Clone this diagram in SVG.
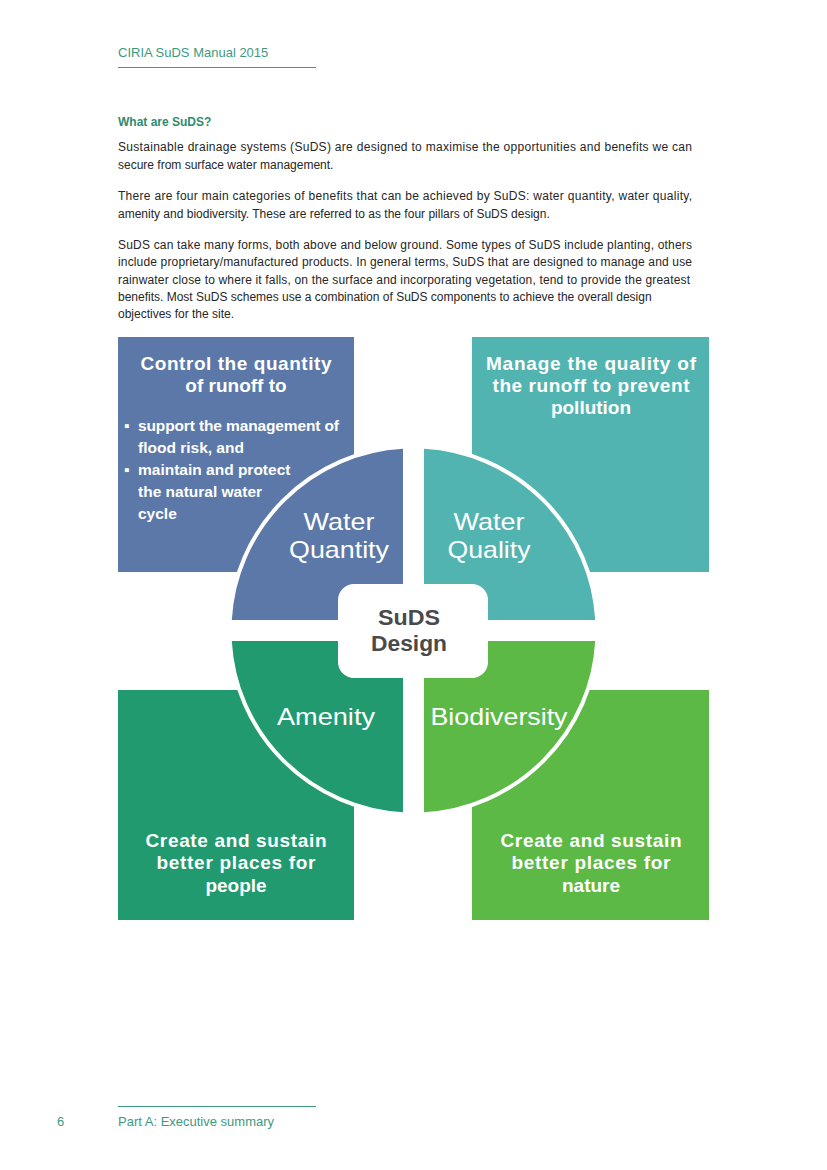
<svg xmlns="http://www.w3.org/2000/svg" width="827" height="1170" viewBox="0 0 827 1170">
<style>
.hdr{font-family:"Liberation Sans",Arial,sans-serif;font-size:13px;fill:#3d9a7f}
.body{font-family:"Liberation Sans",Arial,sans-serif;font-size:12px;fill:#262626}
.h{font-family:"Liberation Sans",Arial,sans-serif;font-size:12px;font-weight:bold;fill:#2f8a6f}
.bt{font-family:"Liberation Sans",Arial,sans-serif;font-size:19px;font-weight:bold;fill:#ffffff}
.bl{font-family:"Liberation Sans",Arial,sans-serif;font-size:15.5px;font-weight:bold;fill:#ffffff}
.lab{font-family:"Liberation Sans",Arial,sans-serif;font-size:24px;fill:#ffffff}
.ctr{font-family:"Liberation Sans",Arial,sans-serif;font-size:22px;font-weight:bold;fill:#4a4a4a}
.rule{stroke:#3d9a7f;stroke-width:1}
.arc{fill:none;stroke:#ffffff;stroke-width:4}
</style>
<rect width="827" height="1170" fill="#ffffff"/>
<text class="hdr" x="118" y="57">CIRIA SuDS Manual 2015</text>
<line class="rule" x1="118" y1="67.5" x2="316" y2="67.5"/>
<text class="h" x="118" y="126">What are SuDS?</text>
<text class="body" x="118" y="151" textLength="574">Sustainable drainage systems (SuDS) are designed to maximise the opportunities and benefits we can</text>
<text class="body" x="118" y="169">secure from surface water management.</text>
<text class="body" x="118" y="200" textLength="574">There are four main categories of benefits that can be achieved by SuDS: water quantity, water quality,</text>
<text class="body" x="118" y="218">amenity and biodiversity. These are referred to as the four pillars of SuDS design.</text>
<text class="body" x="118" y="249" textLength="574">SuDS can take many forms, both above and below ground.  Some types of SuDS include planting, others</text>
<text class="body" x="118" y="266" textLength="574">include proprietary/manufactured products. In general terms, SuDS that are designed to manage and use</text>
<text class="body" x="118" y="284" textLength="572">rainwater close to where it falls, on the surface and incorporating vegetation, tend to provide the greatest</text>
<text class="body" x="118" y="301">benefits. Most SuDS schemes use a combination of SuDS components to achieve the overall design</text>
<text class="body" x="118" y="318">objectives for the site.</text>

<g id="quantity">
<rect x="118" y="337" width="236" height="235" fill="#5b78a8"/>
<path d="M403,620 L229.8,620 A184,184 0 0 1 403,446.8 Z" fill="#5b78a8"/>
<path class="arc" d="M229.8,620 A184,184 0 0 1 403,446.8"/>
<text class="bt" x="236" y="370" text-anchor="middle" textLength="191">Control the quantity</text>
<text class="bt" x="236" y="392" text-anchor="middle">of runoff to</text>
<text class="bl" x="124" y="431">▪</text>
<text class="bl" x="138" y="431" textLength="201">support the management of</text>
<text class="bl" x="138" y="453">flood risk, and</text>
<text class="bl" x="124" y="475">▪</text>
<text class="bl" x="138" y="475">maintain and protect</text>
<text class="bl" x="138" y="497">the natural water</text>
<text class="bl" x="138" y="519">cycle</text>
<text class="lab" x="339" y="530" text-anchor="middle" textLength="71" lengthAdjust="spacingAndGlyphs">Water</text>
<text class="lab" x="339" y="558" text-anchor="middle" textLength="100" lengthAdjust="spacingAndGlyphs">Quantity</text>
</g>

<g id="quality">
<rect x="472" y="337" width="237" height="235" fill="#52b4b0"/>
<path d="M424,620 L424,446.8 A184,184 0 0 1 597.2,620 Z" fill="#52b4b0"/>
<path class="arc" d="M424,446.8 A184,184 0 0 1 597.2,620"/>
<text class="bt" x="591" y="370" text-anchor="middle" textLength="210">Manage the quality of</text>
<text class="bt" x="591" y="392" text-anchor="middle" textLength="197">the runoff to prevent</text>
<text class="bt" x="591" y="414" text-anchor="middle">pollution</text>
<text class="lab" x="489" y="530" text-anchor="middle" textLength="71" lengthAdjust="spacingAndGlyphs">Water</text>
<text class="lab" x="489" y="558" text-anchor="middle" textLength="83" lengthAdjust="spacingAndGlyphs">Quality</text>
</g>

<g id="amenity">
<rect x="118" y="690" width="236" height="230" fill="#219a6f"/>
<path d="M403,641 L403,814.2 A184,184 0 0 1 229.8,641 Z" fill="#219a6f"/>
<path class="arc" d="M403,814.2 A184,184 0 0 1 229.8,641"/>
<text class="lab" x="326" y="725" text-anchor="middle" textLength="98" lengthAdjust="spacingAndGlyphs">Amenity</text>
<text class="bt" x="236" y="847" text-anchor="middle" textLength="181">Create and sustain</text>
<text class="bt" x="236" y="869" text-anchor="middle" textLength="159">better places for</text>
<text class="bt" x="236" y="892" text-anchor="middle">people</text>
</g>

<g id="biodiversity">
<rect x="472" y="690" width="237" height="230" fill="#5cb946"/>
<path d="M424,641 L597.2,641 A184,184 0 0 1 424,814.2 Z" fill="#5cb946"/>
<path class="arc" d="M597.2,641 A184,184 0 0 1 424,814.2"/>
<text class="lab" x="499" y="725" text-anchor="middle" textLength="137" lengthAdjust="spacingAndGlyphs">Biodiversity</text>
<text class="bt" x="591" y="847" text-anchor="middle" textLength="181">Create and sustain</text>
<text class="bt" x="591" y="869" text-anchor="middle" textLength="159">better places for</text>
<text class="bt" x="591" y="892" text-anchor="middle">nature</text>
</g>

<g id="center">
<rect x="338" y="584" width="150" height="94" rx="16" fill="#ffffff"/>
<text class="ctr" x="409" y="625" text-anchor="middle" textLength="62" lengthAdjust="spacingAndGlyphs">SuDS</text>
<text class="ctr" x="409" y="651" text-anchor="middle" textLength="76" lengthAdjust="spacingAndGlyphs">Design</text>
</g>

<g id="connectors"></g>

<line class="rule" x1="118" y1="1106.5" x2="316" y2="1106.5"/>
<text class="hdr" x="57" y="1126">6</text>
<text class="hdr" x="118" y="1126">Part A: Executive summary</text>
</svg>
